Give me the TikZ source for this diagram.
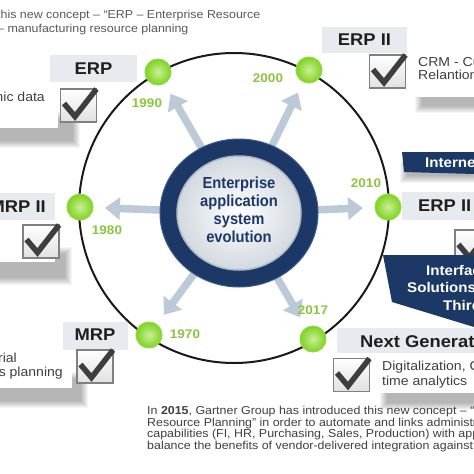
\documentclass[tikz,border=0pt]{standalone}
\usepackage{fontspec}
\setmainfont[FakeStretch=1.08]{Liberation Sans}
\newfontfamily\hubfont[FakeStretch=0.92]{Liberation Sans}
\usetikzlibrary{arrows.meta,calc,shapes.geometric}
\definecolor{gnode}{HTML}{7ED321}
\definecolor{gnodein}{HTML}{CBEF96}
\definecolor{yeargreen}{HTML}{8CC63F}
\definecolor{navy}{HTML}{1C3866}
\definecolor{navyhi}{HTML}{3A5A8C}
\definecolor{hubgray}{HTML}{D3D9E0}
\definecolor{hubrim}{HTML}{AEB9C6}
\definecolor{titlebg}{HTML}{E7EAEE}
\definecolor{arrowc}{HTML}{BCCAD8}
\definecolor{checkc}{HTML}{3E3E3E}
\pgfdeclarelayer{back}
\pgfdeclarelayer{bg}
\pgfsetlayers{back,bg,main}
\newcommand{\softshadow}[4]{\foreach \k in {0,1,...,7}{\fill[black,opacity=0.04] ({#1+\k},{#2+\k}) rectangle ({#3-\k},{#4-\k});}}
\newcommand{\chkmark}[1]{\draw[checkmark] ($(#1.center)+(-14.5,-2)$) -- ($(#1.center)+(-3.5,11)$) -- ($(#1.center)+(18,-16.5)$);}
\begin{document}
\begin{tikzpicture}[x=1pt,y=-1pt,
  every node/.style={inner sep=0pt},
  yearball/.style={circle, minimum size=26pt, inner color=gnodein, outer color=gnode, draw=gnode!85!white, line width=1pt},
  yearlbl/.style={font=\fontsize{12.5}{14}\selectfont\bfseries, text=yeargreen},
  titlebox/.style={fill=titlebg, rectangle},
  titletxt/.style={font=\fontsize{17}{18}\selectfont\bfseries, text=black!88},
  desc/.style={font=\fontsize{13}{15}\selectfont, text=black!75},
  checkbox/.style={rectangle, minimum width=36pt, minimum height=33pt, draw=black!50, line width=1.3pt, top color=white, bottom color=black!12},
  checkmark/.style={draw=checkc, line width=5.5pt, line join=miter},
  evarrow/.style={draw=arrowc, line width=7.5pt, -{Triangle[width=22pt,length=15pt]}},
  bannertxt/.style={font=\fontsize{14}{17}\selectfont\bfseries, text=white, anchor=west},
  smalltxt/.style={font=\fontsize{11.5}{12}\selectfont, text=black!75, anchor=west}
]
\useasboundingbox (0,0) rectangle (474,474);
\clip (0,0) rectangle (474,474);
\begin{pgfonlayer}{back}
\fill[white] (0,0) rectangle (474,474);
\end{pgfonlayer}

% shadows and white description boxes
\softshadow{-10}{112}{80}{148}
\fill[white] (-10,70) rectangle (58,128);
\softshadow{-10}{247}{72}{285}
\fill[white] (-10,218) rectangle (55,262);
\softshadow{-10}{372}{88}{408}
\fill[white] (-10,338) rectangle (72,388);
\softshadow{415}{86}{490}{113}
\fill[white] (412,50) rectangle (480,97);
\softshadow{380}{380}{490}{410}
\fill[white] (377,355) rectangle (480,393);
\softshadow{400}{162}{480}{183}

% timeline
\coordinate (tc) at (234,208);
\node[yearball] (n1990) at (158,72) {};
\node[yearball] (n2000) at (309,70) {};
\node[yearball] (n1980) at (80,207) {};
\node[yearball] (n2010) at (388,207) {};
\node[yearball] (n1970) at (149,335) {};
\node[yearball] (n2017) at (313,339) {};

% hub
\node[ellipse, minimum width=158pt, minimum height=148pt, fill=navy, draw=navyhi, line width=1pt] (hub) at (239,213) {};
\node[ellipse, minimum width=124pt, minimum height=114pt, inner color=white, outer color=hubgray, draw=hubrim, line width=1.5pt] (hubin) at (hub) {};
\node[align=center, font=\hubfont\bfseries\fontsize{16}{18}\selectfont, text=navy] (hubt) at (239,210) {Enterprise\\application\\system\\evolution};

\begin{pgfonlayer}{bg}
\draw[line width=2pt, black!90] (tc) circle[radius=155pt];
\foreach \n in {n1990,n2000,n1980,n2010,n1970,n2017}{
  \draw[evarrow] ($(hub)!70pt!(\n)$) -- ($(\n)!25pt!(hub)$);
}
\end{pgfonlayer}

% year labels
\node[yearlbl] (y1990) at (147,103) {1990};
\node[yearlbl] (y2000) at (268,78) {2000};
\node[yearlbl] (y1980) at (107,230) {1980};
\node[yearlbl] (y2010) at (366,183) {2010};
\node[yearlbl] (y1970) at (185,334) {1970};
\node[yearlbl] (y2017) at (313,310) {2017};

% title boxes
\node[titlebox, minimum width=87pt, minimum height=27pt] (tb1990) at (93.5,68.5) {};
\node[titletxt] (tt1990) at (tb1990) {ERP};
\node[titlebox, minimum width=85pt, minimum height=26pt] (tb2000) at (364.5,40) {};
\node[titletxt] (tt2000) at (tb2000) {ERP II};
\node[titlebox, minimum width=60pt, minimum height=27pt] (tb1980) at (25,206.5) {};
\node[titletxt, anchor=east] (tt1980) at (46,206.5) {MRP II};
\node[titlebox, minimum width=80pt, minimum height=28pt] (tb2010) at (442,206) {};
\node[titletxt, anchor=west] (tt2010) at (418,206) {ERP II};
\node[titlebox, minimum width=65pt, minimum height=28pt] (tb1970) at (95.5,336) {};
\node[titletxt] (tt1970) at (95,335) {MRP};
\node[titlebox, minimum width=145pt, minimum height=25pt] (tb2017) at (409.5,340.5) {};
\node[titletxt, anchor=west] (tt2017) at (360,341) {Next Generation};

% checkboxes
\node[checkbox] (c1990) at (78.5,105.5) {};
\node[checkbox] (c2000) at (387.5,71.5) {};
\node[checkbox] (c1980) at (41,241.5) {};
\node[checkbox] (c2010) at (473,246.5) {};
\node[checkbox] (c1970) at (95,366.5) {};
\node[checkbox] (c2017) at (351.5,375) {};
\chkmark{c1990}
\chkmark{c2000}
\chkmark{c1980}
\chkmark{c2010}
\chkmark{c1970}
\chkmark{c2017}

% descriptions
\node[desc, anchor=east] (d1990) at (45,97) {economic data};
\node[desc, anchor=west] (d2000a) at (418,62) {CRM - Customer};
\node[desc, anchor=west] (d2000b) at (418,76) {Relantionship Management};
\node[desc, anchor=east] (d1970a) at (17,358) {Material};
\node[desc, anchor=east] (d1970b) at (63,373) {requirements planning};
\node[desc, anchor=west] (d2017a) at (382,367) {Digitalization, Cloud};
\node[desc, anchor=west] (d2017b) at (382,382) {time analytics};

% banners
\fill[navy] (402,152) -- (474,152) -- (474,174) -- (404,172) -- cycle;
\node[bannertxt] (b1) at (425,163) {Internet};
\fill[navy] (383,255) -- (474,255) -- (474,327) -- (392,302) -- cycle;
\node[bannertxt] (b2a) at (426,270) {Interface};
\node[bannertxt] (b2b) at (407,287) {Solutions with};
\node[bannertxt] (b2c) at (443,305) {Third};

% top text
\node[smalltxt, text=black!65] (top1) at (-3,16) {this new concept – “ERP – Enterprise Resource};
\node[smalltxt, text=black!65] (top2) at (-3,30) {– manufacturing resource planning};

% bottom paragraph
\node[smalltxt] (p1) at (147,412) {In \textbf{2015}, Gartner Group has introduced this new concept – “ERP – Enterprise};
\node[smalltxt] (p2) at (147,423.5) {Resource Planning” in order to automate and links administrative};
\node[smalltxt] (p3) at (147,435) {capabilities (FI, HR, Purchasing, Sales, Production) with applications};
\node[smalltxt] (p4) at (147,446.5) {balance the benefits of vendor-delivered integration against};
\end{tikzpicture}
\end{document}
